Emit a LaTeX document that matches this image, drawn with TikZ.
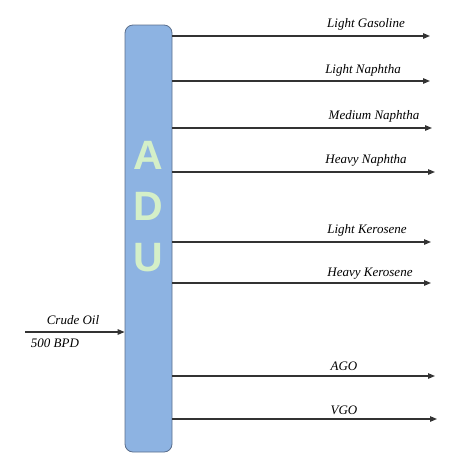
\documentclass[tikz,border=0pt]{standalone}
\usepackage{fontspec}
\setmainfont{Liberation Serif}
\newfontfamily\letterfont{Liberation Sans}
\usetikzlibrary{arrows.meta}

\definecolor{colfill}{HTML}{8DB3E2}
\definecolor{coledge}{HTML}{5A6E8C}
\definecolor{colletter}{HTML}{D4EFC8}

\tikzset{
  flow/.style={draw=black!80, line width=1.2pt, -{Triangle[length=7pt,width=5.5pt]}},
  stream/.style={font=\itshape\fontsize{13}{13}\selectfont, inner sep=0pt},
  letter/.style={text=colletter, font=\letterfont\bfseries\fontsize{41}{41}\selectfont}
}

\begin{document}
\begin{tikzpicture}[x=1pt,y=-1pt]
		\useasboundingbox (0,0) rectangle (474,467);
		\node[draw=coledge, fill=colfill, line width=0.8pt, rounded corners=8pt,
		      minimum width=47pt, minimum height=427pt, inner sep=0pt] (adu) at (148.5,238.5) {};
		\node[letter] (la) at (148,155) {A};
		\node[letter] (ld) at (148,206) {D};
		\node[letter] (lu) at (148,258) {U};
		% feed
		\coordinate (feed) at (25,332);
		\draw[flow] (feed) -- (adu.west |- feed);
		\node[stream] (crude) at (73,320) {Crude Oil};
		\node[stream] (bpd) at (55,343) {500 BPD};
		% products
		\coordinate (p1) at (430,36);
		\coordinate (p2) at (430,81);
		\coordinate (p3) at (432,128);
		\coordinate (p4) at (435,172);
		\coordinate (p5) at (431,242);
		\coordinate (p6) at (431,283);
		\coordinate (p7) at (435,376);
		\coordinate (p8) at (437,419);
		\draw[flow] (adu.east |- p1) -- (p1);
		\draw[flow] (adu.east |- p2) -- (p2);
		\draw[flow] (adu.east |- p3) -- (p3);
		\draw[flow] (adu.east |- p4) -- (p4);
		\draw[flow] (adu.east |- p5) -- (p5);
		\draw[flow] (adu.east |- p6) -- (p6);
		\draw[flow] (adu.east |- p7) -- (p7);
		\draw[flow] (adu.east |- p8) -- (p8);
		\node[stream] (lgas) at (366,24) {Light Gasoline};
		\node[stream] (lnap) at (363,70) {Light Naphtha};
		\node[stream] (mnap) at (374,116) {Medium Naphtha};
		\node[stream] (hnap) at (366,160) {Heavy Naphtha};
		\node[stream] (lker) at (367,230) {Light Kerosene};
		\node[stream] (hker) at (370,274) {Heavy Kerosene};
		\node[stream] (ago) at (344,366) {AGO};
		\node[stream] (vgo) at (344,410) {VGO};
	\end{tikzpicture}
\end{document}
